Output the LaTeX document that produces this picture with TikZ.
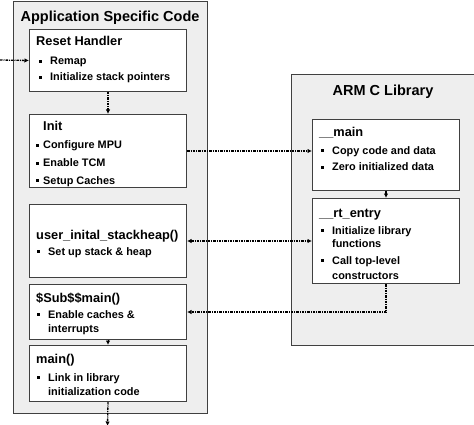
\documentclass[tikz,border=0pt]{standalone}
\usepackage{fontspec}
\setmainfont{Liberation Sans}
\usetikzlibrary{arrows.meta}
\definecolor{panel}{HTML}{EEEEEE}
\definecolor{edge}{HTML}{404040}
\newcommand{\bulA}{\llap{\rule[2.4pt]{3pt}{3pt}\hspace{8pt}}}
\newcommand{\bulB}{\llap{\rule[2.4pt]{3pt}{3pt}\hspace{4pt}}}
\tikzset{
  outerbox/.style={draw=edge, fill=panel, line width=1.2pt, anchor=north west, inner sep=0pt},
  innerbox/.style={draw=edge, fill=white, line width=1pt, anchor=north west, inner sep=0pt},
  ttl/.style={font=\bfseries\fontsize{14.5}{16}\selectfont, inner sep=0pt, anchor=base},
  head/.style={font=\bfseries\fontsize{12.8}{14}\selectfont, inner sep=0pt, anchor=base west},
  itm/.style={font=\bfseries\fontsize{10.9}{12}\selectfont, inner sep=0pt, anchor=base west},
  flow/.style={line width=1.3pt, dash pattern=on 2.5pt off 1pt on 1pt off 1pt, -{Latex[length=4.5pt,width=4.5pt]}},
  flowboth/.style={line width=1.3pt, dash pattern=on 2.5pt off 1pt on 1pt off 1pt, {Latex[length=4.5pt,width=4.5pt]}-{Latex[length=4.5pt,width=4.5pt]}},
  solidflow/.style={line width=1pt, -{Latex[length=4.5pt,width=4.5pt]}}
}
\begin{document}
\begin{tikzpicture}[x=1pt,y=-1pt]
\path[use as bounding box, clip] (0,0) rectangle (474,425);
% outer panels
\node[outerbox, minimum width=194pt, minimum height=412pt] (app) at (13,1) {};
\node[outerbox, minimum width=200pt, minimum height=271pt] (lib) at (291,74) {};
\node[ttl] (apptitle) at (110,21.5) {Application Specific Code};
\node[ttl] (libtitle) at (383,95.5) {ARM C Library};
% left boxes
\node[innerbox, minimum width=157pt, minimum height=62pt] (reset) at (29,29) {};
\node[head] (resethead) at (36,46) {Reset Handler};
\node[itm] (reset1) at (50,65) {\bulA Remap};
\node[itm] (reset2) at (50,81) {\bulA Initialize stack pointers};

\node[innerbox, minimum width=157pt, minimum height=73pt] (init) at (29,114) {};
\node[head] (inithead) at (43,131) {Init};
\node[itm] (init1) at (43,149) {\bulB Configure MPU};
\node[itm] (init2) at (43,167) {\bulB Enable TCM};
\node[itm] (init3) at (43,184) {\bulB Setup Caches};

\node[innerbox, minimum width=157pt, minimum height=73pt] (user) at (29,204) {};
\node[head] (userhead) at (36,239) {user\_inital\_stackheap()};
\node[itm] (user1) at (48,255) {\bulA Set up stack \& heap};

\node[innerbox, minimum width=157pt, minimum height=55pt] (sub) at (29,284) {};
\node[head] (subhead) at (36,302) {\$Sub\$\$main()};
\node[itm] (sub1) at (48,318) {\bulA Enable caches \&};
\node[itm] (sub2) at (48,332) {interrupts};

\node[innerbox, minimum width=157pt, minimum height=56pt] (mainf) at (29,345) {};
\node[head] (mainhead) at (36,363) {main()};
\node[itm] (main1) at (48,381) {\bulA Link in library};
\node[itm] (main2) at (48,395) {initialization code};

% right boxes
\node[innerbox, minimum width=147pt, minimum height=71pt] (libmain) at (312,119) {};
\node[head] (libmainhead) at (319,137) {\_\_main};
\node[itm] (libmain1) at (332,154) {\bulA Copy code and data};
\node[itm] (libmain2) at (332,171) {\bulA Zero initialized data};

\node[innerbox, minimum width=147pt, minimum height=85pt] (rt) at (312,198) {};
\node[head] (rthead) at (319,217) {\_\_rt\_entry};
\node[itm] (rt1) at (332,234) {\bulA Initialize library};
\node[itm] (rt2) at (332,247) {functions};
\node[itm] (rt3) at (332,264) {\bulA Call top-level};
\node[itm] (rt4) at (332,279) {constructors};

% connectors
\coordinate (entry) at (0,60);
\coordinate (exit) at (107.5,426);
\draw[flow] (entry) -- (reset.west);
\draw[flow] (reset.south) -- (init.north);
\draw[flow] (init.east) -- (init.east -| libmain.west);
\draw[flow] (libmain.south) -- (rt.north);
\draw[flowboth] (user.east) -- (rt.west);
\draw[flow] (rt.south) |- (sub.east);
\draw[solidflow] (sub.south) -- (mainf.north);
\draw[flow] (mainf.south) -- (exit);
\end{tikzpicture}
\end{document}
